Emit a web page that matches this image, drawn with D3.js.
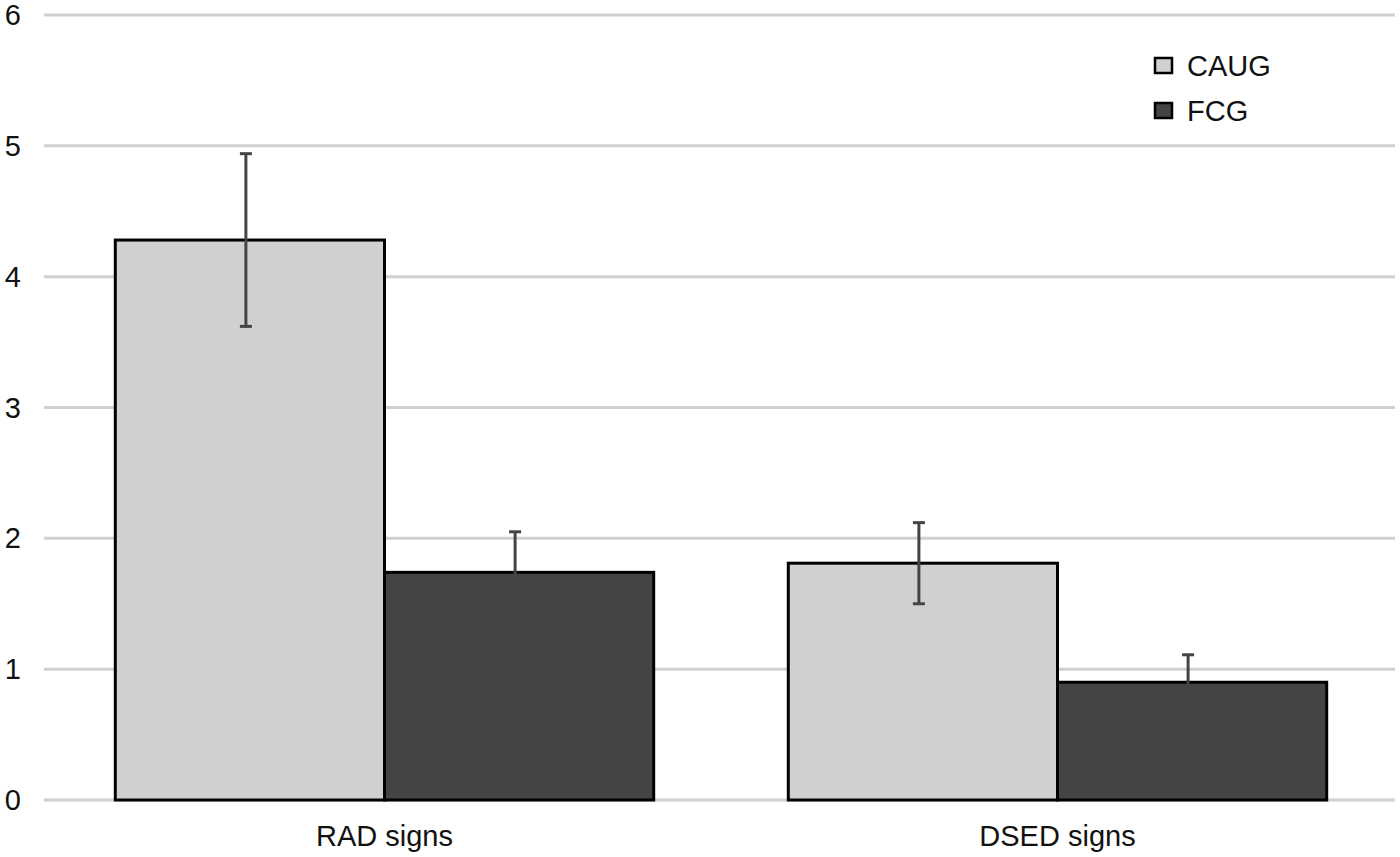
<!DOCTYPE html>
<html>
<head>
<meta charset="utf-8">
<script src="https://cdn.jsdelivr.net/npm/d3@7"></script>
<style>
  body{margin:0;background:#fff;}
  text{font-family:"Liberation Sans",Arial,sans-serif;}
</style>
</head>
<body>
<svg id="chart" width="1400" height="857"></svg>
<script>
// data
let categories=["RAD signs","DSED signs"];
let groups=["CAUG","FCG"];
let caugValues=[4.28,1.81];
let caugErrors=[0.66,0.31];
let fcgValues=[1.74,0.90];
let fcgErrors=[0.31,0.21];
let yTicks=[0,1,2,3,4,5,6];

let colors={CAUG:"#d0d0d0",FCG:"#444444"};

let svg=d3.select("#chart");

let xScale=d3.scaleBand().domain(categories).range([48,1394]).paddingInner(0.2).paddingOuter(0.1);
let xInner=d3.scaleBand().domain(groups).range([0,xScale.bandwidth()]);
let yScale=d3.scaleLinear().domain([0,6]).range([800,15]);

let rows=[];
categories.forEach(function(c,i){
  rows.push({cat:c,group:"CAUG",value:caugValues[i],err:caugErrors[i]});
  rows.push({cat:c,group:"FCG",value:fcgValues[i],err:fcgErrors[i]});
});

// gridlines
svg.append("g").selectAll("line")
  .data(yTicks)
  .enter().append("line")
  .attr("x1",44).attr("x2",1395)
  .attr("y1",function(d){return yScale(d)})
  .attr("y2",function(d){return yScale(d)})
  .attr("stroke","#d0d0d0")
  .attr("stroke-width",3);

// y tick labels
svg.append("g").selectAll("text")
  .data(yTicks)
  .enter().append("text")
  .attr("x",21)
  .attr("y",function(d){return yScale(d)+10})
  .attr("text-anchor","end")
  .attr("font-size",29)
  .attr("fill","#111")
  .text(function(d){return d});

// bars
svg.append("g").selectAll("rect")
  .data(rows)
  .enter().append("rect")
  .attr("x",function(d){return xScale(d.cat)+xInner(d.group)})
  .attr("y",function(d){return yScale(d.value)})
  .attr("width",xInner.bandwidth())
  .attr("height",function(d){return yScale(0)-yScale(d.value)})
  .attr("fill",function(d){return colors[d.group]})
  .attr("stroke","#000")
  .attr("stroke-width",3);

// error bars
let errs=svg.append("g").selectAll("g")
  .data(rows)
  .enter().append("g")
  .attr("stroke","#444444")
  .attr("stroke-width",3)
  .attr("transform",function(d){
    return "translate("+(xScale(d.cat)+xInner(d.group)+xInner.bandwidth()/2-4)+",0)";
  });
errs.append("line")
  .attr("x1",0).attr("x2",0)
  .attr("y1",function(d){return yScale(d.value+d.err)})
  .attr("y2",function(d){return yScale(d.value-d.err)});
errs.append("line")
  .attr("x1",-6).attr("x2",6)
  .attr("y1",function(d){return yScale(d.value+d.err)})
  .attr("y2",function(d){return yScale(d.value+d.err)});
errs.append("line")
  .attr("x1",-6).attr("x2",6)
  .attr("y1",function(d){return yScale(d.value-d.err)})
  .attr("y2",function(d){return yScale(d.value-d.err)});

// x labels
svg.append("g").selectAll("text")
  .data(categories)
  .enter().append("text")
  .attr("x",function(d){return xScale(d)+xScale.bandwidth()/2})
  .attr("y",846)
  .attr("text-anchor","middle")
  .attr("font-size",29)
  .attr("fill","#111")
  .text(function(d){return d});

// legend
let legend=svg.append("g").selectAll("g")
  .data(groups)
  .enter().append("g")
  .attr("transform",function(d,i){return "translate(1155,"+(58+i*45)+")"});
legend.append("rect")
  .attr("width",17).attr("height",15)
  .attr("fill",function(d){return colors[d]})
  .attr("stroke","#000")
  .attr("stroke-width",2.5);
legend.append("text")
  .attr("x",32).attr("y",18)
  .attr("font-size",29)
  .attr("fill","#111")
  .text(function(d){return d});
</script>
</body>
</html>
